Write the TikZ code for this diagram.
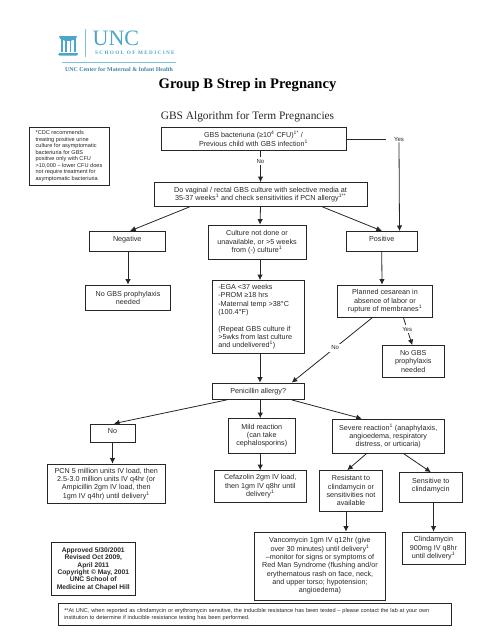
\documentclass[tikz,border=0pt]{standalone}
\usepackage{fontspec}
\setmainfont{Liberation Sans}
\newfontfamily\timesfont{Liberation Serif}
\usetikzlibrary{arrows.meta}
\definecolor{uncblue}{HTML}{4BA6C9}

\begin{document}
\begin{tikzpicture}[x=1pt,y=-1pt,
flowbox/.style={draw=black!85, line width=.8pt, align=center, inner sep=0pt, font=\fontsize{7.2}{8.35}\selectfont, text=black!85},
arrowline/.style={draw=black!85, line width=.8pt, -{Latex[length=5.5pt,width=5.5pt]}},
plainline/.style={draw=black!85, line width=.8pt},
edgelabel/.style={fill=white, inner sep=2pt, font=\fontsize{6}{7}\selectfont, text=black!85}]
\useasboundingbox (0,0) rectangle (495,640);

% logo
\fill[uncblue] (58,54) -- (78,54) -- (76.5,55.5) -- (59.5,55.5) -- cycle;
\fill[uncblue] (59,36) arc[start angle=180, end angle=0, x radius=9, y radius=5] -- cycle;
\fill[uncblue] (60,37) rectangle (76,38.5);
\foreach \colx in {61,65,69.5,74}
  \fill[uncblue] (\colx,39) rectangle +(1.8,13);
\fill[uncblue] (58.5,52.5) rectangle (77.5,53.5);
\draw[uncblue!70, line width=.5pt] (85.5,29) -- (85.5,57);
\draw[uncblue!70, line width=.5pt] (62,62) -- (176,62);
\node[inner sep=0pt, anchor=base west, text=uncblue, font=\timesfont\fontsize{22}{22}\selectfont] (unc) at (92.5,45.5) {UNC};
\node[inner sep=0pt, anchor=base west, text=uncblue, font=\timesfont\bfseries\fontsize{5.2}{5.5}\selectfont] (school) at (95,54.5) {\addfontfeature{LetterSpace=26}SCHOOL OF MEDICINE};
\node[inner sep=0pt, text=uncblue!80!black, font=\timesfont\bfseries\fontsize{5.9}{6}\selectfont] (center) at (119,69.7) {UNC Center for Maternal \& Infant Health};

% titles
\node[inner sep=0pt, font=\timesfont\bfseries\fontsize{14.6}{16}\selectfont] (title) at (247.5,85.5) {Group B Strep in Pregnancy};
\node[inner sep=0pt, text=black!85, font=\timesfont\fontsize{11.4}{14}\selectfont] (subtitle) at (247.5,117) {GBS Algorithm for Term Pregnancies};

% side notes
\node[flowbox, minimum width=80pt, minimum height=58pt, align=left, font=\fontsize{5.6}{6.5}\selectfont] (cdc) at (69,156) {*CDC recommends\\treating positive urine\\culture for asymptomatic\\bacteriuria for GBS\\positive only with CFU\\>10,000 -- lower CFU does\\not require treatment for\\asymptomatic bacteriuria};
\node[flowbox, minimum width=83.5pt, minimum height=53pt, font=\bfseries\fontsize{6.7}{7.4}\selectfont] (approved) at (93.25,569) {Approved 5/30/2001\\Revised Oct 2009,\\April 2011\\Copyright © May, 2001\\UNC School of\\Medicine at Chapel Hill};
\node[flowbox, minimum width=393.5pt, minimum height=22pt, text width=381pt, align=left, font=\fontsize{5.6}{7}\selectfont] (footer) at (254.75,614.5) {**At UNC, when reported as clindamycin or erythromycin sensitive, the inducible resistance has been tested -- please contact the lab at your own\\institution to determine if inducible resistance testing has been performed.};

% flow boxes
\node[flowbox, minimum width=185pt, minimum height=23.5pt] (top) at (253.5,138.75) {GBS bacteriuria (≥10\textsuperscript{4} CFU)\textsuperscript{1*} /\\Previous child with GBS infection\textsuperscript{1}};
\node[flowbox, minimum width=213pt, minimum height=24pt] (culture) at (260.5,194.5) {Do vaginal / rectal GBS culture with selective media at\\35-37 weeks\textsuperscript{1} and check sensitivities if PCN allergy\textsuperscript{1**}};
\node[flowbox, minimum width=75.5pt, minimum height=20.5pt, text depth=5pt] (negative) at (127.25,241.5) {Negative};
\node[flowbox, minimum width=98pt, minimum height=34.5pt] (notdone) at (257,242.25) {Culture not done or\\unavailable, or >5 weeks\\from (-) culture\textsuperscript{1}};
\node[flowbox, minimum width=71.5pt, minimum height=20.5pt, text depth=5pt] (positive) at (381.75,241.5) {Positive};
\node[flowbox, minimum width=85pt, minimum height=25.5pt] (nogbs) at (128,297.75) {No GBS prophylaxis\\needed};
\node[flowbox, minimum width=91.5pt, minimum height=72.5pt, align=left] (ega) at (258.25,316.75) {\hspace{-6pt}-EGA <37 weeks\\\hspace{-6pt}-PROM ≥18 hrs\\\hspace{-6pt}-Maternal temp >38°C\\\hspace{-6pt}(100.4°F)\\[8.35pt]\hspace{-6pt}(Repeat GBS culture if\\\hspace{-6pt}>5wks from last culture\\\hspace{-6pt}and undelivered\textsuperscript{1})};
\node[flowbox, minimum width=95pt, minimum height=32.5pt] (planned) at (385,301.25) {Planned cesarean in\\absence of labor or\\rupture of membranes\textsuperscript{1}};
\node[flowbox, minimum width=61.5pt, minimum height=32pt] (nogbsyes) at (413.25,361.5) {No GBS\\prophylaxis\\needed};
\node[flowbox, minimum width=91.5pt, minimum height=16.5pt] (allergy) at (258.25,391.25) {Penicillin allergy?};
\node[flowbox, minimum width=45pt, minimum height=18pt, text depth=3pt] (noallergy) at (112.5,433) {No};
\node[flowbox, minimum width=67.5pt, minimum height=34.5pt] (mild) at (261.75,435.75) {Mild reaction\\(can take\\cephalosporins)};
\node[flowbox, minimum width=111.5pt, minimum height=34pt] (severe) at (388.25,436) {Severe reaction\textsuperscript{1} (anaphylaxis,\\angioedema, respiratory\\distress, or urticaria)};
\node[flowbox, minimum width=117.5pt, minimum height=39.5pt] (pcn) at (106.25,483.75) {PCN 5 million units IV load, then\\2.5-3.0 million units IV q4hr (or\\Ampicillin 2gm IV load, then\\1gm IV q4hr) until delivery\textsuperscript{1}};
\node[flowbox, minimum width=91.5pt, minimum height=31.5pt] (cefazolin) at (260.25,486.25) {Cefazolin 2gm IV load,\\then 1gm IV q8hr until\\delivery\textsuperscript{1}};
\node[flowbox, minimum width=63pt, minimum height=40.5pt] (resistant) at (351,490.75) {Resistant to\\clindamycin or\\sensitivities not\\available};
\node[flowbox, minimum width=62.5pt, minimum height=29.5pt, text depth=5pt] (sensitive) at (430.75,487.25) {Sensitive to\\clindamycin};
\node[flowbox, minimum width=131pt, minimum height=68pt] (vanco) at (320,566) {Vancomycin 1gm IV q12hr (give\\over 30 minutes) until delivery\textsuperscript{1}\\--monitor for signs or symptoms of\\Red Man Syndrome (flushing and/or\\erythematous rash on face, neck,\\and upper torso; hypotension;\\angioedema)};
\node[flowbox, minimum width=63pt, minimum height=32.5pt] (clinda) at (433.5,548.25) {Clindamycin\\900mg IV q8hr\\until delivery\textsuperscript{1}};
\node[edgelabel] (yes) at (399,139) {Yes};

% connectors
\draw[plainline] (top.east |- yes.west) -- ([xshift=-6pt]yes.west);
\draw[arrowline] ([yshift=1pt]yes.south) -- (399.5,231);
\draw[arrowline] (culture.north |- top.south) -- node[edgelabel, pos=.33] {No} (culture.north);
\draw[arrowline] ([xshift=-71pt]culture.south) -- ([xshift=3pt]negative.north);
\draw[arrowline] (culture.south) -- ([xshift=3pt]notdone.north);
\draw[arrowline] ([xshift=62pt]culture.south) -- (positive.north);
\draw[arrowline] (nogbs.north |- negative.south) -- (nogbs.north);
\draw[arrowline] ([xshift=3pt]notdone.south) -- ([xshift=1.75pt]ega.north);
\draw[arrowline] ([xshift=1.75pt]ega.south) -- ([xshift=1.75pt]allergy.north);
\draw[arrowline] (positive.south) -- ([xshift=-3pt]planned.north);
\draw[arrowline] ([xshift=18.5pt]planned.south) -- node[edgelabel, pos=.42] {Yes} ([xshift=-1pt]nogbsyes.north);
\draw[arrowline] ([xshift=-13pt]planned.south) -- node[edgelabel, pos=.46] {No} ([xshift=33.5pt]allergy.north);
\draw[arrowline] ([xshift=-31.5pt]allergy.south) -- ([xshift=1.5pt]noallergy.north);
\draw[arrowline] ([xshift=2pt]allergy.south) -- ([xshift=-1.5pt]mild.north);
\draw[arrowline] ([xshift=33.5pt]allergy.south) -- ([xshift=-26.5pt]severe.north);
\draw[arrowline] (noallergy.south) -- (noallergy.south |- pcn.north);
\draw[arrowline] (cefazolin.north |- mild.south) -- (cefazolin.north);
\draw[arrowline] ([xshift=-21.5pt]severe.south) -- ([xshift=-3.7pt]resistant.north);
\draw[arrowline] ([xshift=15pt]severe.south) -- (sensitive.north);
\draw[arrowline] ([xshift=-5pt]resistant.south) -- ([xshift=-5pt]resistant.south |- vanco.north);
\draw[arrowline] (clinda.north |- sensitive.south) -- (clinda.north);
\end{tikzpicture}
\end{document}
